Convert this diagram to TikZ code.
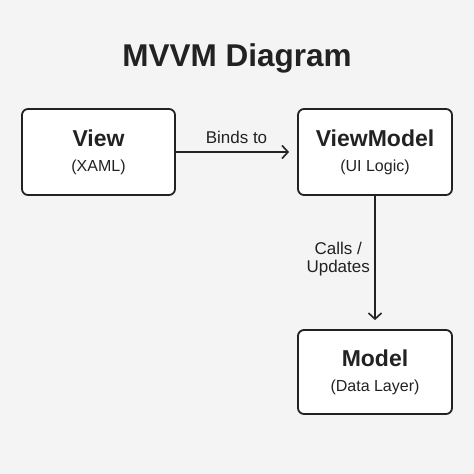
\documentclass[tikz,border=0pt]{standalone}
\usepackage{fontspec}
\setmainfont{Liberation Sans}
\usetikzlibrary{arrows.meta, positioning}
\definecolor{bg}{HTML}{F4F4F4}
\definecolor{ink}{HTML}{222222}
\tikzstyle{block} = [draw=ink, fill=white, rectangle, rounded corners=6pt, line width=1.8pt, align=center, text=ink, font=\fontsize{16}{25}\selectfont]
\tikzstyle{lbl} = [text=ink, font=\fontsize{17}{18}\selectfont]
\newcommand{\boxname}[1]{{\fontsize{23}{25}\selectfont\bfseries #1}}

\begin{document}
\begin{tikzpicture}[x=1pt,y=-1pt,>={Straight Barb[length=6pt,width=13pt,line width=1.6pt]}]
    \fill[bg] (0,0) rectangle (474,474);
    \useasboundingbox (0,0) rectangle (474,474);
    \node[text=ink, font=\fontsize{31.5}{34}\selectfont\bfseries] (title) at (237,58) {MVVM Diagram};
    \node[block, minimum width=153pt, minimum height=86pt] (view) at (98.5,152) {\boxname{View}\\(XAML)};
    \node[block, minimum width=154pt, minimum height=86pt, right of=view, node distance=276.5pt] (vm) {\boxname{ViewModel}\\(UI Logic)};
    \node[block, minimum width=154pt, minimum height=84pt, below of=vm, node distance=220pt] (model) {\boxname{Model}\\(Data Layer)};
    \draw[->, draw=ink, line width=1.6pt, shorten >=8pt] (view) -- node[lbl, above, yshift=4pt] {Binds to} (vm);
    \draw[->, draw=ink, line width=1.6pt, shorten >=9pt] (vm) -- node[lbl, left, align=center, xshift=-1pt, yshift=3pt] {Calls /\\Updates} (model);
\end{tikzpicture}
\end{document}
